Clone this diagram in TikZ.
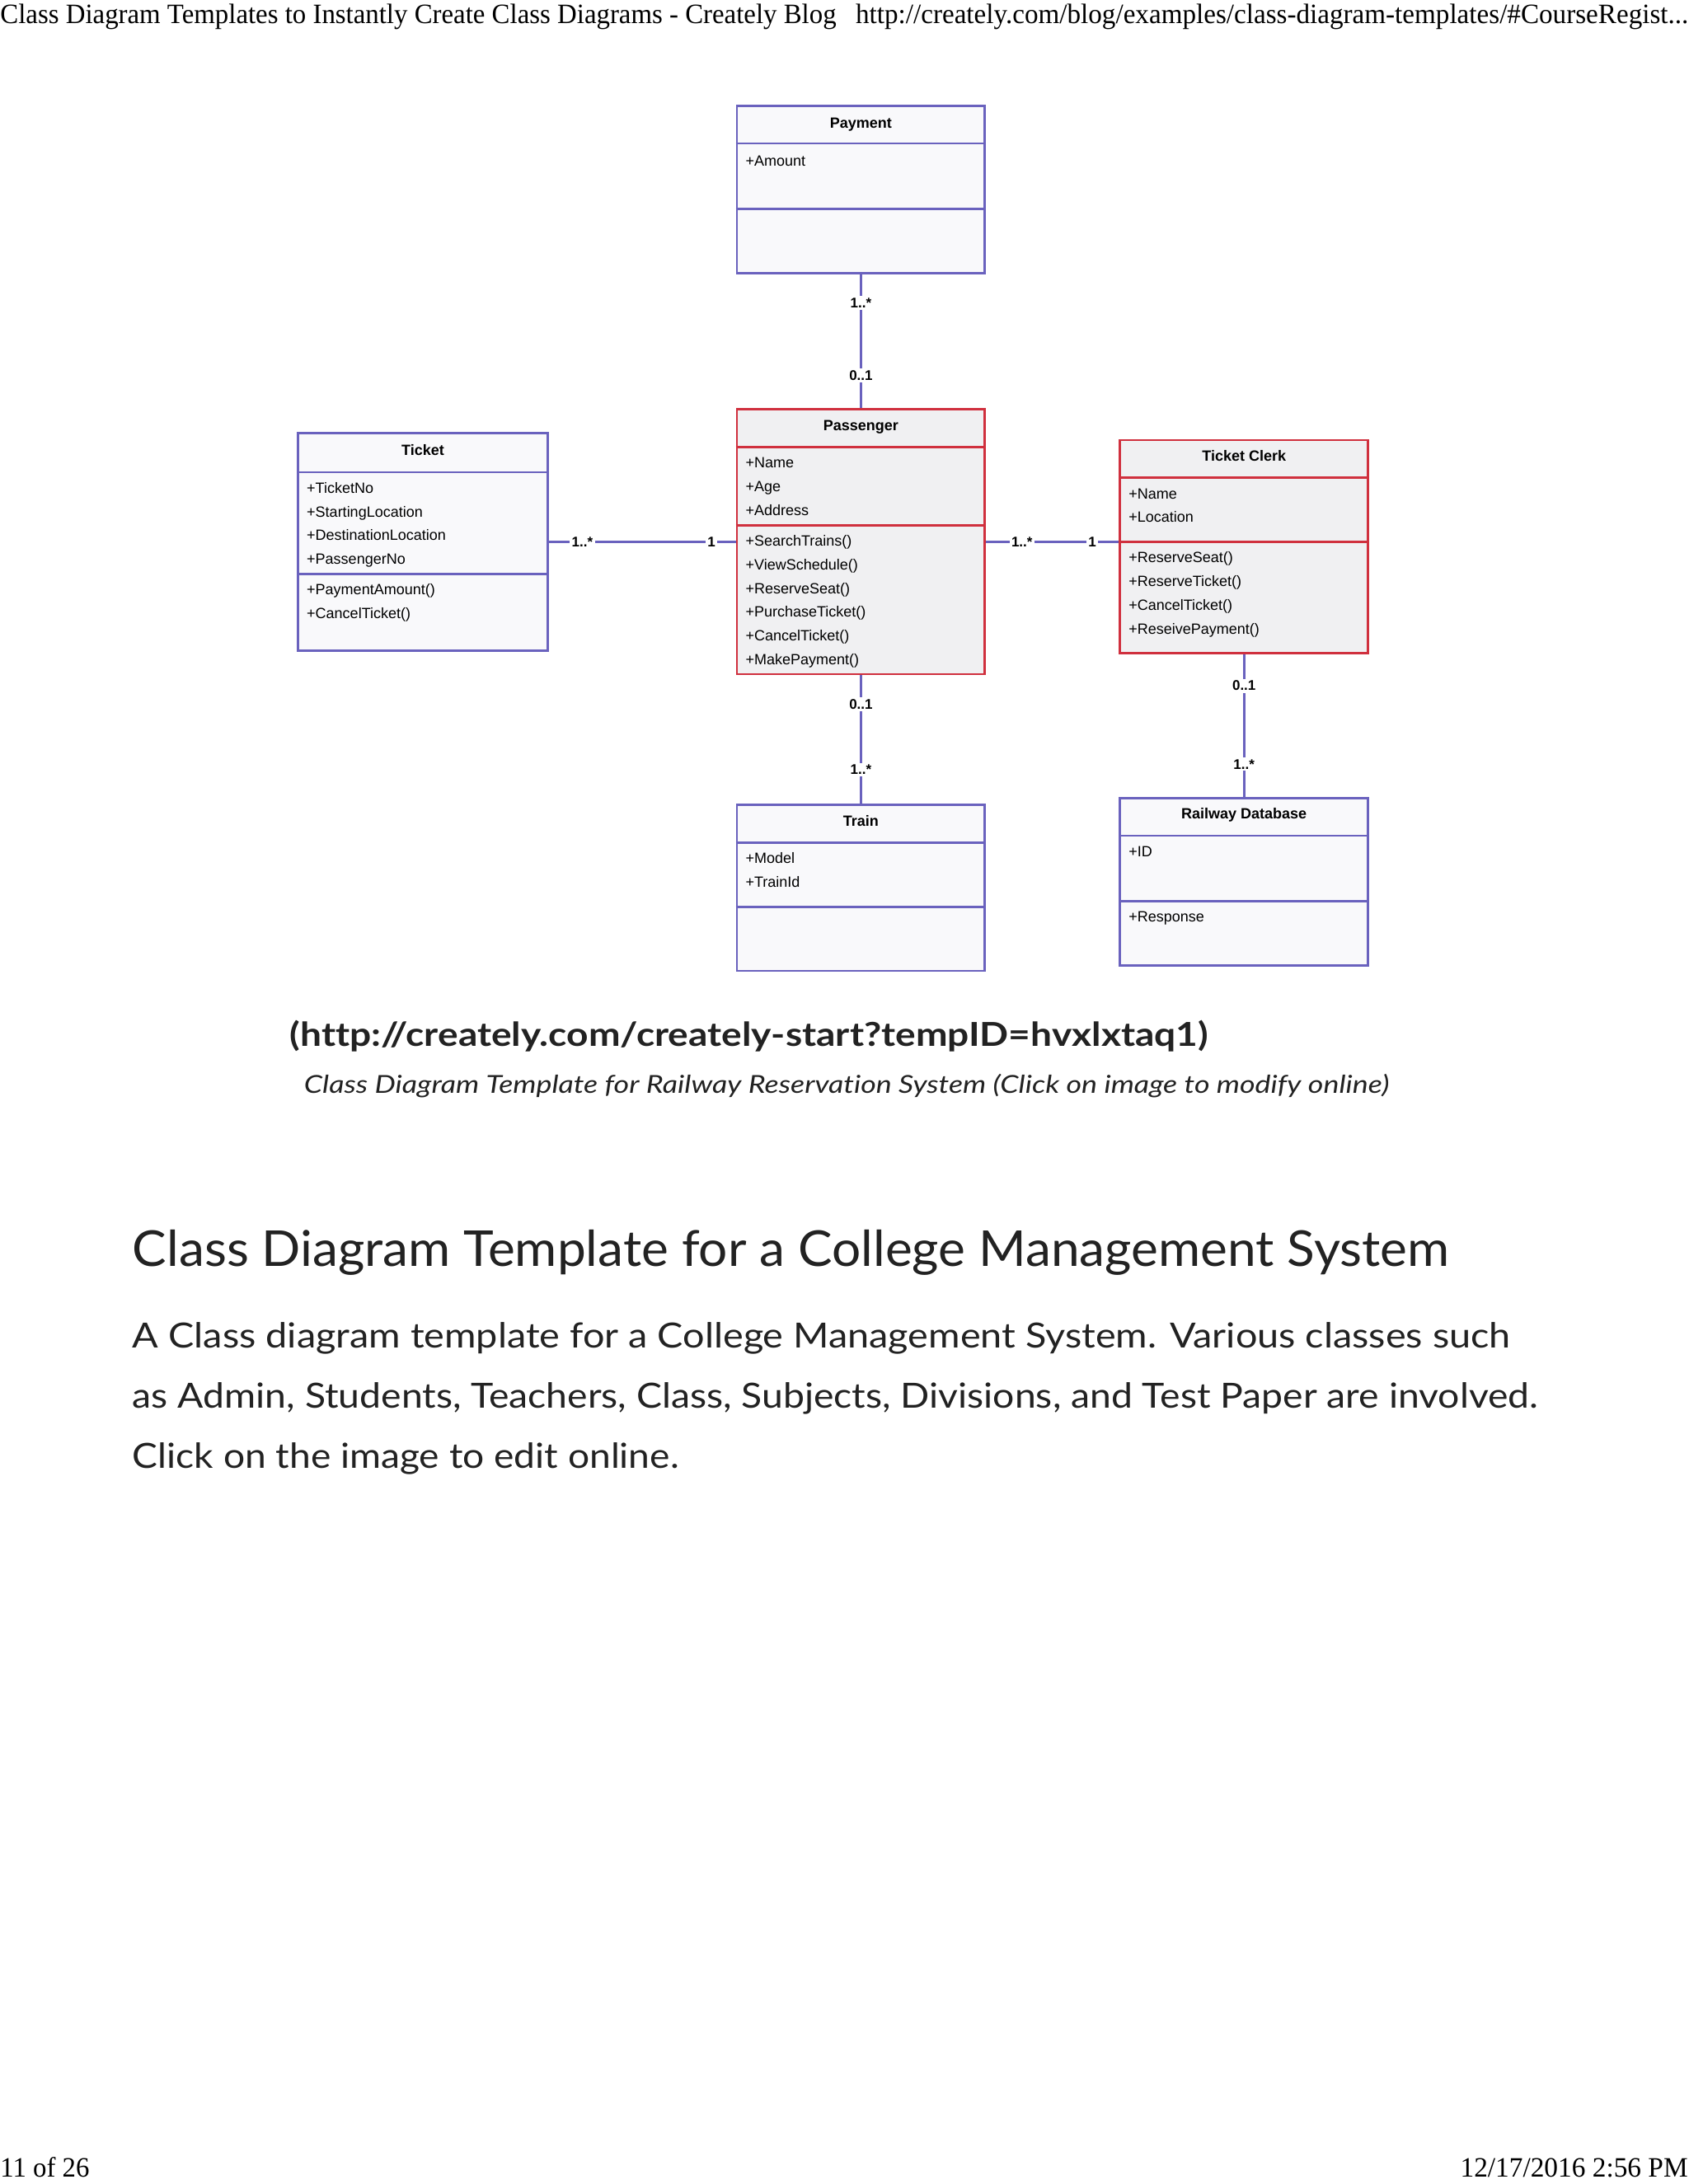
\documentclass[tikz,border=0pt]{standalone}
\usepackage{fontspec}
\setmainfont{Liberation Sans}
\newfontfamily\hdrfont{Liberation Serif}
\newfontfamily\blogfont{Lato}[Ligatures=NoCommon]
\usetikzlibrary{fit}
\definecolor{umlblue}{RGB}{106,98,190}
\definecolor{umlred}{RGB}{208,48,62}
\definecolor{fillA}{RGB}{249,249,251}
\definecolor{fillB}{RGB}{240,240,242}
\definecolor{blogtext}{RGB}{34,34,34}
\tikzset{
  bluebox/.style={draw=umlblue, line width=1.4pt, fill=fillA, inner sep=0pt},
  redbox/.style={draw=umlred, line width=1.4pt, fill=fillB, inner sep=0pt},
  bluesep/.style={draw=umlblue, line width=1.4pt},
  redsep/.style={draw=umlred, line width=1.4pt},
  ctitle/.style={font=\fontsize{9}{10}\selectfont\bfseries, inner sep=0pt, text height=1.6ex, text depth=.3ex},
  member/.style={font=\fontsize{9}{10}\selectfont, anchor=west, inner sep=0pt, text height=1.6ex, text depth=.3ex},
  assoc/.style={draw=umlblue, line width=1.4pt},
  mult/.style={font=\fontsize{8.5}{9}\selectfont\bfseries, fill=white, inner sep=1.2pt},
  hdr/.style={font=\hdrfont\fontsize{17}{18}\selectfont, anchor=base west, inner sep=0pt},
  blog/.style={text=blogtext, anchor=base west, inner sep=0pt},
}
\begin{document}
\begin{tikzpicture}[x=0.8449pt,y=-0.8449pt]
\useasboundingbox[fill=white] (0,0) rectangle (1212,1568);

% page header / footer
\node[hdr] (hleft) at (0,17) {\resizebox{507pt}{\height}{Class Diagram Templates to Instantly Create Class Diagrams - Creately Blog}};
\node[hdr] (hright) at (614,17) {\resizebox{505pt}{\height}{http://creately.com/blog/examples/class-diagram-templates/\#CourseRegist...}};
\node[hdr] (fleft) at (0,1563) {\resizebox{54pt}{\height}{11 of 26}};
\node[hdr] (fright) at (1048,1563) {\resizebox{138pt}{\height}{12/17/2016 2:56 PM}};

% ---------- classes ----------
% Payment
\node[bluebox, fit={(529,76) (707,196)}] (payment) {};
\draw[bluesep] (payment.west |- 0,103) -- (payment.east |- 0,103);
\draw[bluesep] (payment.west |- 0,150) -- (payment.east |- 0,150);
\node[ctitle] (paymentT) at (618,88) {Payment};
\node[member] (paymentA1) at (535,115) {+Amount};

% Passenger
\node[redbox, fit={(529,294) (707,484)}] (passenger) {};
\draw[redsep] (passenger.west |- 0,321) -- (passenger.east |- 0,321);
\draw[redsep] (passenger.west |- 0,377) -- (passenger.east |- 0,377);
\node[ctitle] (passengerT) at (618,305) {Passenger};
\node[member] (pa1) at (535,332) {+Name};
\node[member] (pa2) at (535,349) {+Age};
\node[member] (pa3) at (535,366) {+Address};
\node[member] (pm1) at (535,388) {+SearchTrains()};
\node[member] (pm2) at (535,405) {+ViewSchedule()};
\node[member] (pm3) at (535,422) {+ReserveSeat()};
\node[member] (pm4) at (535,439) {+PurchaseTicket()};
\node[member] (pm5) at (535,456) {+CancelTicket()};
\node[member] (pm6) at (535,473) {+MakePayment()};

% Ticket
\node[bluebox, fit={(214,311) (393,467)}] (ticket) {};
\draw[bluesep] (ticket.west |- 0,339) -- (ticket.east |- 0,339);
\draw[bluesep] (ticket.west |- 0,412) -- (ticket.east |- 0,412);
\node[ctitle] (ticketT) at (303.5,323) {Ticket};
\node[member] (ta1) at (220,350) {+TicketNo};
\node[member] (ta2) at (220,367) {+StartingLocation};
\node[member] (ta3) at (220,384) {+DestinationLocation};
\node[member] (ta4) at (220,401) {+PassengerNo};
\node[member] (tm1) at (220,423) {+PaymentAmount()};
\node[member] (tm2) at (220,440) {+CancelTicket()};

% Ticket Clerk
\node[redbox, fit={(804,316) (982,469)}] (clerk) {};
\draw[redsep] (clerk.west |- 0,343) -- (clerk.east |- 0,343);
\draw[redsep] (clerk.west |- 0,389) -- (clerk.east |- 0,389);
\node[ctitle] (clerkT) at (893,327) {Ticket Clerk};
\node[member] (ca1) at (810,354) {+Name};
\node[member] (ca2) at (810,371) {+Location};
\node[member] (cm1) at (810,400) {+ReserveSeat()};
\node[member] (cm2) at (810,417) {+ReserveTicket()};
\node[member] (cm3) at (810,434) {+CancelTicket()};
\node[member] (cm4) at (810,451) {+ReseivePayment()};

% Train
\node[bluebox, fit={(529,578) (707,697)}] (train) {};
\draw[bluesep] (train.west |- 0,605) -- (train.east |- 0,605);
\draw[bluesep] (train.west |- 0,651) -- (train.east |- 0,651);
\node[ctitle] (trainT) at (618,589) {Train};
\node[member] (tr1) at (535,616) {+Model};
\node[member] (tr2) at (535,633) {+TrainId};

% Railway Database
\node[bluebox, fit={(804,573) (982,693)}] (railway) {};
\draw[bluesep] (railway.west |- 0,600) -- (railway.east |- 0,600);
\draw[bluesep] (railway.west |- 0,647) -- (railway.east |- 0,647);
\node[ctitle] (railwayT) at (893,584) {Railway Database};
\node[member] (ra1) at (810,611) {+ID};
\node[member] (ra2) at (810,658) {+Response};

% ---------- associations ----------
\draw[assoc] (payment.south) -- node[mult, pos=0.214] {1..*} node[mult, pos=0.755] {0..1} (passenger.north);
\draw[assoc] (ticket.east) -- node[mult, pos=0.18] {1..*} node[mult, pos=0.87] {1} (passenger.west);
\draw[assoc] (passenger.east) -- node[mult, pos=0.27] {1..*} node[mult, pos=0.80] {1} (passenger.east -| clerk.west);
\draw[assoc] (passenger.south) -- node[mult, pos=0.223] {0..1} node[mult, pos=0.734] {1..*} (train.north);
\draw[assoc] (clerk.south) -- node[mult, pos=0.22] {0..1} node[mult, pos=0.77] {1..*} (railway.north);

% ---------- blog text ----------
\node[blog, font=\blogfont\fontsize{20}{24}\selectfont\bfseries] (url) at (208,751) {\resizebox{556.8pt}{\height}{(http://creately.com/creately-start?tempID=hvxlxtaq1)}};
\node[blog, font=\blogfont\fontsize{15}{18}\selectfont\itshape] (caption) at (218,785) {\resizebox{658pt}{\height}{Class Diagram Template for Railway Reservation System (Click on image to modify online)}};
\node[blog, font=\blogfont\fontsize{30}{36}\selectfont] (heading) at (95,909) {\resizebox{798.5pt}{\height}{Class Diagram Template for a College Management System}};
\node[blog, font=\blogfont\fontsize{21}{26}\selectfont] (para1) at (95,968) {\resizebox{835.6pt}{\height}{A Class diagram template for a College Management System. Various classes such}};
\node[blog, font=\blogfont\fontsize{21}{26}\selectfont] (para2) at (95,1011) {\resizebox{852.5pt}{\height}{as Admin, Students, Teachers, Class, Subjects, Divisions, and Test Paper are involved.}};
\node[blog, font=\blogfont\fontsize{21}{26}\selectfont] (para3) at (95,1054) {\resizebox{331.4pt}{\height}{Click on the image to edit online.}};
\end{tikzpicture}
\end{document}
